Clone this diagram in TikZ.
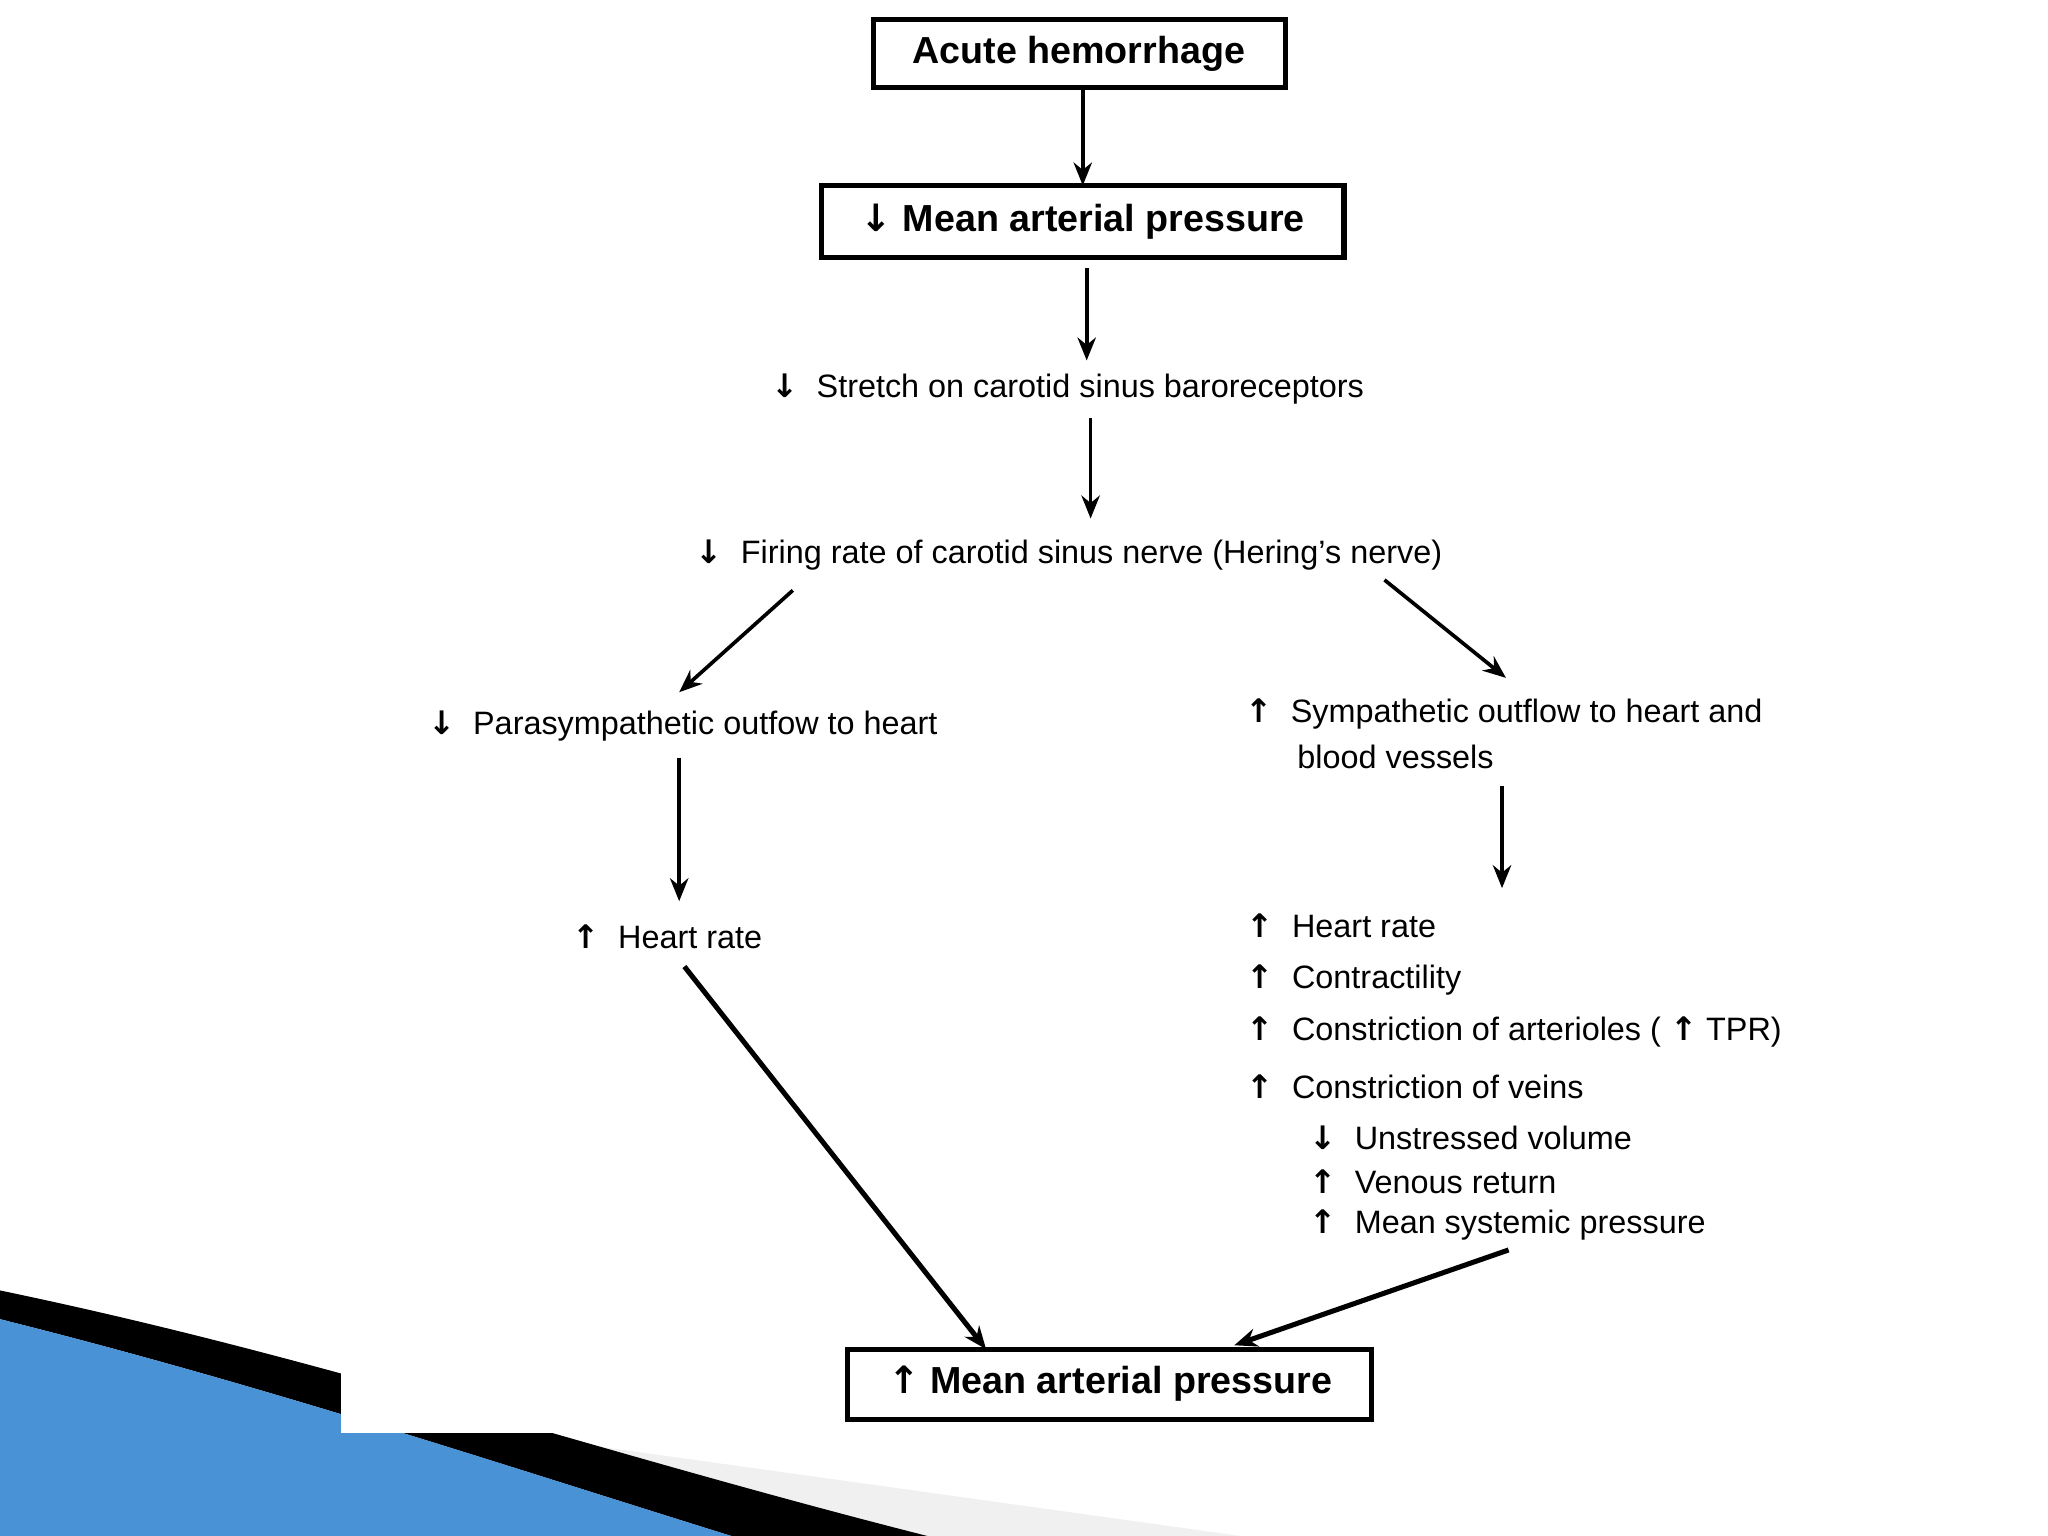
\documentclass[tikz,border=0pt]{standalone}
\usepackage{fontspec}
\setmainfont{Liberation Sans}
\newfontfamily\dv{DejaVu Sans}
\usetikzlibrary{arrows.meta}
\newcommand{\up}{{\dv\bfseries ↑}}
\newcommand{\dn}{{\dv\bfseries ↓}}
\begin{document}
\begin{tikzpicture}[x=0.01cm,y=-0.01cm,
  txt/.style={anchor=west,inner sep=0pt,font=\fontsize{7.05}{8}\selectfont},
  bx/.style={inner sep=0pt,font=\fontsize{8.2}{10}\selectfont\bfseries},
  ar/.style={-{Stealth[length=5pt,width=4pt]},line width=0.8pt}]
\useasboundingbox (0,0) rectangle (1568,1176);
% swoosh
\fill[gray!12] (261,1080) -- (950,1176) -- (261,1176) -- cycle;
\fill[black] (0,988) .. controls (250,1040) and (450,1110) .. (710,1176) -- (560,1176) .. controls (380,1120) and (200,1060) .. (0,1010) -- cycle;
\fill[cyan!60!blue!75!white] (0,1010) .. controls (200,1060) and (380,1120) .. (560,1176) -- (0,1176) -- cycle;
\fill[white] (261,0) rectangle (1568,1097);
% boxes
\draw[line width=1.1pt] (669,15) rectangle (984,67);
\node[bx] (a) at (826,41) {Acute hemorrhage};
\draw[line width=1.1pt] (629,142) rectangle (1029,197);
\node[bx] (m1) at (829,170) {\dn\ Mean arterial pressure};
\draw[line width=1.1pt] (649,1033) rectangle (1050,1087);
\node[bx] (m2) at (850,1059) {\up\ Mean arterial pressure};
% texts
\node[txt] (s) at (590,298) {\dn\ \ Stretch on carotid sinus baroreceptors};
\node[txt] (f) at (532,425) {\dn\ \ Firing rate of carotid sinus nerve (Hering's nerve)};
\node[txt] (p) at (327,556) {\dn\ \ Parasympathetic outfow to heart};
\node[txt,align=left] (sy) at (953,562) {\up\ \ Sympathetic outflow to heart and\\[2pt]\hspace*{1.6em}blood vessels};
\node[txt] (h) at (438,717) {\up\ \ Heart rate};
\node[txt] (r1) at (954,709) {\up\ \ Heart rate};
\node[txt] (r2) at (954,750) {\up\ \ Contractility};
\node[txt] (r3) at (954,790) {\up\ \ Constriction of arterioles ( \up\ TPR)};
\node[txt] (r4) at (954,832) {\up\ \ Constriction of veins};
\node[txt] (r5) at (1002,871) {\dn\ \ Unstressed volume};
\node[txt] (r6) at (1002,905) {\up\ \ Venous return};
\node[txt] (r7) at (1002,938) {\up\ \ Mean systemic pressure};
% arrows
\coordinate (c1) at (829,67); \coordinate (c2) at (829,142);
\draw[ar] (c1) -- (c2);
\coordinate (c3) at (832,205); \coordinate (c4) at (832,276);
\draw[ar] (c3) -- (c4);
\coordinate (c5) at (835,320); \coordinate (c6) at (835,397);
\draw[ar] (c5) -- (c6);
\coordinate (c7) at (607,452); \coordinate (c8) at (520,530);
\draw[ar] (c7) -- (c8);
\coordinate (c9) at (1060,444); \coordinate (c10) at (1153,519);
\draw[ar] (c9) -- (c10);
\coordinate (c11) at (520,580); \coordinate (c12) at (520,690);
\draw[ar] (c11) -- (c12);
\coordinate (c13) at (1150,602); \coordinate (c14) at (1150,680);
\draw[ar] (c13) -- (c14);
\coordinate (c15) at (524,740); \coordinate (c16) at (755,1033);
\draw[ar,line width=1.1pt] (c15) -- (c16);
\coordinate (c17) at (1155,957); \coordinate (c18) at (945,1030);
\draw[ar,line width=1.1pt] (c17) -- (c18);
\end{tikzpicture}
\end{document}
